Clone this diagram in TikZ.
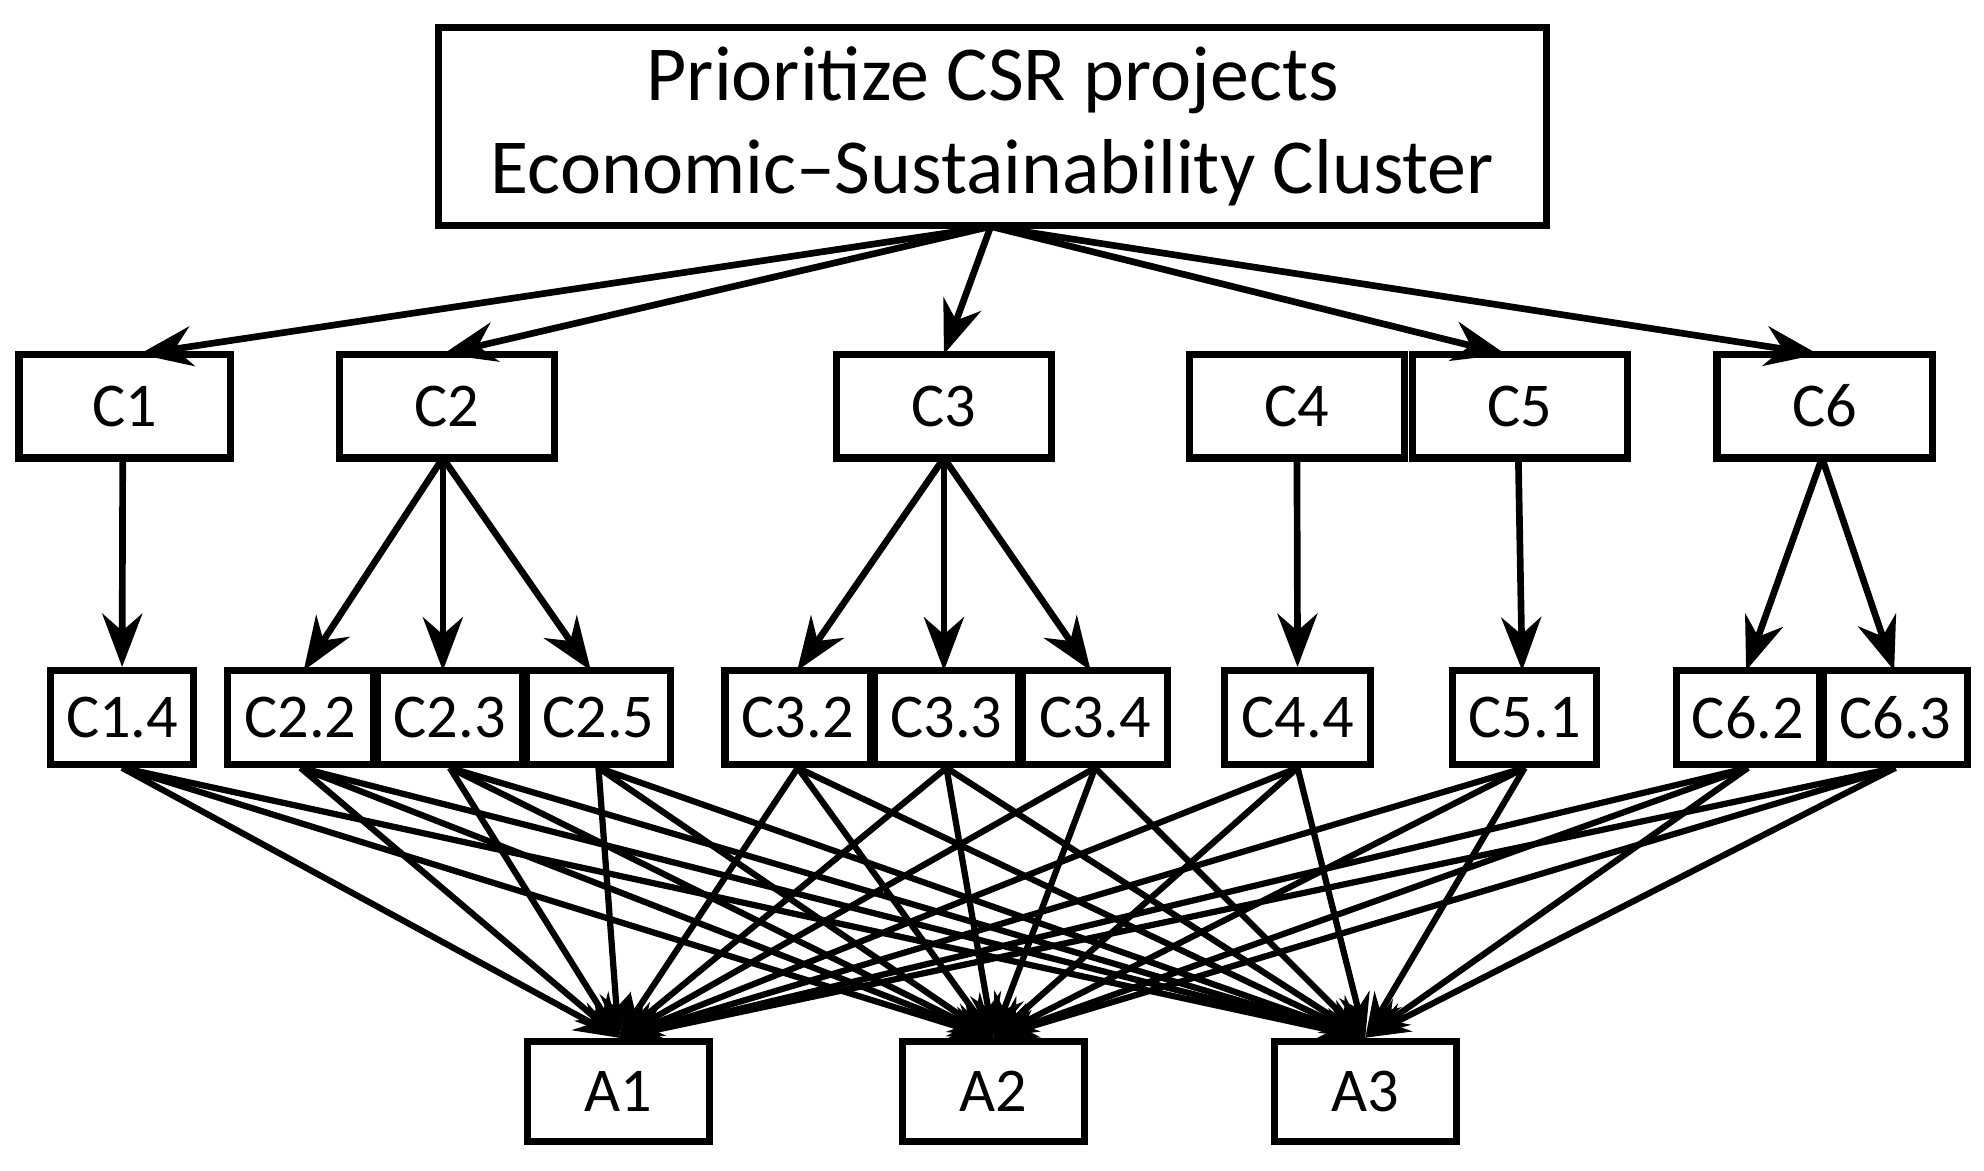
\documentclass[tikz,border=0pt]{standalone}
\usepackage{fontspec}
\setmainfont{Carlito}
\usetikzlibrary{arrows.meta}
\begin{document}
\begin{tikzpicture}[x=0.01cm,y=-0.01cm,
 box/.style={draw,line width=1.6pt,inner sep=0pt,font=\fontsize{14}{16}\selectfont},
 arr/.style={line width=1.5pt,-{Stealth[length=12pt,width=9pt]}},
 ln/.style={line width=1.4pt,-{Stealth[length=10pt,width=7pt]}}]
\useasboundingbox (0,0) rectangle (1568,925);
\node[box,minimum width=8.75cm,minimum height=1.56cm,align=center,font=\fontsize{17.5}{21}\selectfont] (top) at (784.5,100) {Prioritize CSR projects\\Economic–Sustainability Cluster};
\foreach \n/\x/\w in {C1/98.5/167,C2/353/170,C3/746/170,C4/1025/170,C5/1201/170,C6/1442/170}
  \node[box,minimum width=\w*0.01cm,minimum height=0.82cm] (\n) at (\x,321) {\n};
\foreach \n/\t/\x/\w in {S14/C1.4/96.5/113,S22/C2.2/237.5/115,S23/C2.3/355.5/115,S25/C2.5/473/114,S32/C3.2/630.5/115,S33/C3.3/748/114,S34/C3.4/865.5/115,S44/C4.4/1025.5/115,S51/C5.1/1205/114,S62/C6.2/1381.5/113,S63/C6.3/1498/114}
  \node[box,minimum width=\w*0.01cm,minimum height=0.74cm] (\n) at (\x,567) {\t};
\foreach \n/\x in {A1/489,A2/785,A3/1079}
  \node[box,minimum width=1.44cm,minimum height=0.79cm] (\n) at (\x,862.5) {\n};
\coordinate (o) at (783,179);
\draw[arr] (o) -- (110,280);
\draw[arr] (o) -- (350,280);
\draw[arr] (o) -- (746,280);
\draw[arr] (o) -- (1190,280);
\draw[arr] (o) -- (1437,280);
\draw[arr] (97,362) -- (S14.north);
\draw[arr] (350,362) -- (240,530);
\draw[arr] (350,362) -- (350,530);
\draw[arr] (350,362) -- (467,530);
\draw[arr] (746,362) -- (630,530);
\draw[arr] (746,362) -- (746,530);
\draw[arr] (746,362) -- (862,530);
\draw[arr] (1025,362) -- (S44.north);
\draw[arr] (1200,362) -- (1203,530);
\draw[arr] (1440,362) -- (1380,530);
\draw[arr] (1440,362) -- (1497,530);
\foreach \s in {S14,S22,S23,S25,S32,S33,S34,S44,S51,S62,S63}
  \foreach \a in {A1,A2,A3}
    \draw[ln] (\s.south) -- (\a.north);
\end{tikzpicture}
\end{document}
